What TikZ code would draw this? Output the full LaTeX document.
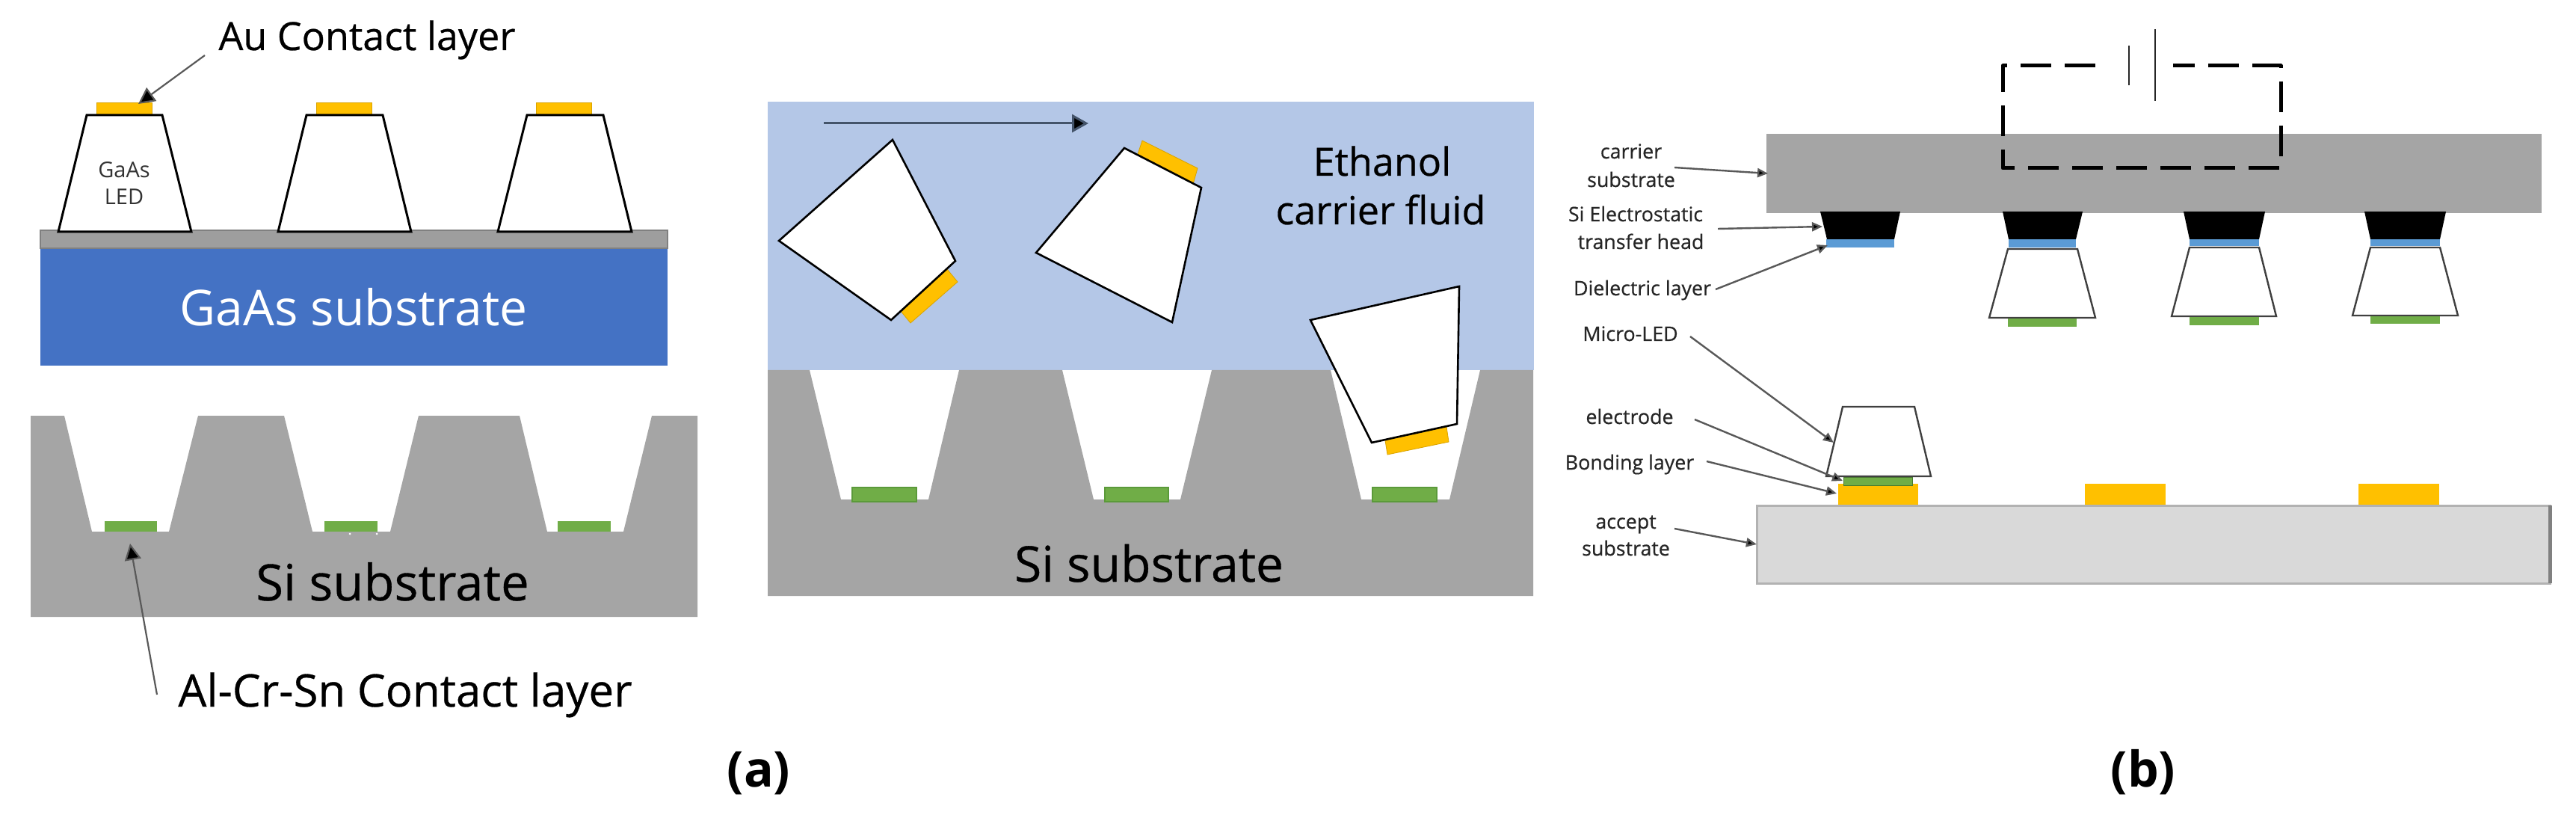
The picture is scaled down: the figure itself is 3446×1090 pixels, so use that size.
\documentclass[tikz,border=0pt]{standalone}
\usepackage{fontspec}
\setmainfont{Open Sans}
\newfontfamily\heavy{Open Sans}[RawFeature={embolden=0.5}]
\usetikzlibrary{arrows.meta}
\definecolor{gold}{HTML}{FFC000}
\definecolor{leaf}{HTML}{70AD47}
\definecolor{leafd}{HTML}{5B9A3A}
\definecolor{gaasblue}{HTML}{4472C4}
\definecolor{pale}{HTML}{B4C7E7}
\definecolor{sigrey}{HTML}{A5A5A5}
\definecolor{lightg}{HTML}{D9D9D9}
\definecolor{headblue}{HTML}{5B9BD5}
\definecolor{flowc}{HTML}{44546A}
\newcommand{\fs}[1]{\fontsize{#1}{#1}\selectfont}
\tikzset{
  x=0.5pt,y=-0.5pt,
  led/.style={draw=black,fill=white,line width=1.5pt,line join=miter},
  ledb/.style={draw=black!75,fill=white,line width=1.2pt,line join=miter},
  goldpad/.style={fill=gold,draw=gold!85!black,line width=0.4pt},
  greenpad/.style={fill=leaf,draw=leafd,line width=0.6pt},
  si/.style={fill=sigrey},
  head/.style={fill=black},
  dielectric/.style={fill=headblue},
  big/.style={inner sep=0pt,anchor=base,text=black,font=\heavy\fs{26}},
  huge/.style={inner sep=0pt,anchor=base,text=black,font=\heavy\fs{33.5}},
  small/.style={inner sep=0pt,anchor=base,text=black!85,font=\heavy\fs{13.4}},
  ptr/.style={draw=black!65,line width=1.2pt,-{Triangle[length=7pt,width=6pt,fill=black]}},
  ptrbig/.style={draw=black!65,line width=1.1pt,-{Triangle[length=11pt,width=11pt,fill=black]}},
  capt/.style={inner sep=0pt,anchor=base,font=\bfseries\fs{33}},
}
\begin{document}
\begin{tikzpicture}
\useasboundingbox (0,0) rectangle (3446,1090);
\fill[white] (0,0) rectangle (3446,1090);
% ---------- top-left: GaAs wafer
\fill[gaasblue] (54,333) rectangle (893,489);
\fill[black!38,draw=black!50,line width=0.8pt] (54,308) rectangle (893,332);
\foreach \a/\b in {129/203,423/497,717/791}
  \fill[goldpad] (\a,137) rectangle (\b,153);
\foreach \a/\b/\c/\d in {78/116/217/256,372/410/512/550,666/705/807/845}
  \draw[led] (\a,310) -- (\b,154) -- (\c,154) -- (\d,310) -- cycle;
\node[inner sep=0pt,anchor=base,text=black!80,font=\fs{14.5}] (gaasa) at (166,238) {GaAs};
\node[inner sep=0pt,anchor=base,text=black!80,font=\fs{14.5}] (gaasb) at (166,274) {LED};
\node[huge,text=white,font=\fs{33}] (gaassub) at (473,436) {GaAs substrate};
\node[big] (aulab) at (491,67) {Au Contact layer};
\coordinate (auS) at (274,74);
\coordinate (auT) at (185,139);
\draw[ptrbig] (auS) -- (auT);
% ---------- bottom-left: etched Si
\fill[si] (41,556) -- (86,556) -- (123,711) -- (226,711) -- (265,556)
  -- (380,556) -- (418,711) -- (522,711) -- (560,556)
  -- (695,556) -- (732,711) -- (834,711) -- (872,556)
  -- (933,556) -- (933,825) -- (41,825) -- cycle;
\foreach \a/\b in {140/210,434/505,746/817}
  \fill[leaf] (\a,697) rectangle (\b,711);
\fill[white] (468,714) circle (1.5) (504,714) circle (1.5);
\node[huge] (sil) at (525,803) {Si substrate};
\node[big,font=\heavy\fs{30}] (allab) at (542,945) {Al-Cr-Sn Contact layer};
\coordinate (alS) at (210,929);
\coordinate (alT) at (174,727);
\draw[ptrbig] (alS) -- (alT);
% ---------- centre: fluidic assembly
\fill[pale] (1027,136) rectangle (2052,495);
\fill[si] (1027,495) -- (1083,495) -- (1125,668) -- (1242,668) -- (1283,495)
  -- (1421,495) -- (1463,668) -- (1579,668) -- (1621,495)
  -- (1780,495) -- (1821,668) -- (1939,668) -- (1980,495)
  -- (2051,495) -- (2051,797) -- (1027,797) -- cycle;
\foreach \a/\b in {1140/1226,1478/1563,1836/1922}
  \filldraw[greenpad] (\a,652) rectangle (\b,671);
\node[huge,font=\heavy\fs{33}] (sic) at (1537,778) {Si substrate};
\coordinate (flowS) at (1102,165);
\coordinate (flowT) at (1456,165);
\draw[draw=flowc,line width=1.5pt,-{Triangle[length=11pt,width=12pt,fill=black]}] (flowS) -- (flowT);
\filldraw[goldpad] (1262,354) -- (1281,377) -- (1218,432) -- (1200,410) -- cycle;
\draw[led,line width=1.3pt] (1194,187) -- (1278,349) -- (1192,428) -- (1042,322) -- cycle;
\filldraw[goldpad] (1528,188) -- (1602,225) -- (1595,250) -- (1520,212) -- cycle;
\draw[led,line width=1.3pt] (1504,198) -- (1607,251) -- (1568,431) -- (1386,338) -- cycle;
\filldraw[goldpad] (1852,583) -- (1934,564) -- (1938,591) -- (1856,608) -- cycle;
\draw[led,line width=1.3pt] (1952,383) -- (1753,428) -- (1835,592) -- (1949,567) -- cycle;
\node[big] (etha) at (1849,235) {Ethanol};
\node[big] (cfl) at (1847,300) {carrier fluid};
% ---------- right: transfer
\fill[si] (2363,179) rectangle (3400,285);
\foreach \a/\b/\c/\d in {2435/2444/2534/2542,2679/2687/2777/2786,2921/2929/3022/3030,3163/3171/3264/3272}
  \fill[head] (\a,283) -- (\b,320) -- (\c,320) -- (\d,283) -- cycle;
\foreach \a/\b/\c in {2443/2534/331,2687/2777/331,2929/3022/329,3171/3264/329}
  \fill[dielectric] (\a,320) rectangle (\b,\c);
\foreach \a/\b/\c/\d/\t/\bm in {2661/2686/2779/2803/333/425,2905/2929/3022/3045/331/423,3147/3171/3264/3288/331/422}
  \draw[ledb] (\a,\bm) -- (\b,\t) -- (\c,\t) -- (\d,\bm) -- cycle;
\foreach \a/\b/\c/\d in {2686/2778/426/437,2929/3022/424/435,3171/3264/423/433}
  \fill[leaf] (\a,\c) rectangle (\b,\d);
% circuit
\draw[black,line width=2.5pt,line join=round,dash pattern=on 20.5pt off 9pt,dash phase=6pt]
  (2907,88) -- (3051,88) -- (3051,225) -- (2679,225) -- (2679,88) -- (2818,88);
\coordinate (batA1) at (2848,61); \coordinate (batA2) at (2848,114);
\coordinate (batB1) at (2883,39); \coordinate (batB2) at (2883,135);
\draw[black!85,line width=1.2pt] (batA1) -- (batA2) (batB1) -- (batB2);
% accept
\filldraw[fill=lightg,draw=black!30,line width=1.5pt] (2350,676) rectangle (3411,780);
\fill[black!50] (3409,676) rectangle (3414,780);
\foreach \a/\b in {2459/2566,2789/2897,3155/3263}
  \fill[gold] (\a,647) rectangle (\b,675);
\fill[leaf,draw=leafd!80!black,line width=0.5pt] (2466,638) rectangle (2558,649);
\draw[ledb] (2443,637) -- (2465,544) -- (2561,544) -- (2583,637) -- cycle;
% labels
\node[small] (l1a) at (2182,212) {carrier};
\node[small] (l1b) at (2182,250) {substrate};
\node[small] (l2a) at (2188,296) {Si Electrostatic};
\node[small] (l2b) at (2195,333) {transfer head};
\node[small] (l3) at (2197,395) {Dielectric layer};
\node[small] (l4) at (2181,456) {Micro-LED};
\node[small] (l5) at (2180,567) {electrode};
\node[small] (l6) at (2180,628) {Bonding layer};
\node[small] (l7a) at (2175,707) {accept};
\node[small] (l7b) at (2175,743) {substrate};
\coordinate (p1s) at (2240,224); \coordinate (p1t) at (2365,232);
\coordinate (p2s) at (2298,306); \coordinate (p2t) at (2438,303);
\coordinate (p3s) at (2295,387); \coordinate (p3t) at (2445,328);
\coordinate (p4s) at (2261,450); \coordinate (p4t) at (2453,592);
\coordinate (p5s) at (2267,561); \coordinate (p5t) at (2465,643);
\coordinate (p6s) at (2283,617); \coordinate (p6t) at (2457,660);
\coordinate (p7s) at (2240,707); \coordinate (p7t) at (2350,728);
\foreach \u in {1,...,7} \draw[ptr] (p\u s) -- (p\u t);
% captions
\node[capt] (capa) at (1015,1052) {(a)};
\node[capt] (capb) at (2867,1052) {(b)};
\end{tikzpicture}
\end{document}
